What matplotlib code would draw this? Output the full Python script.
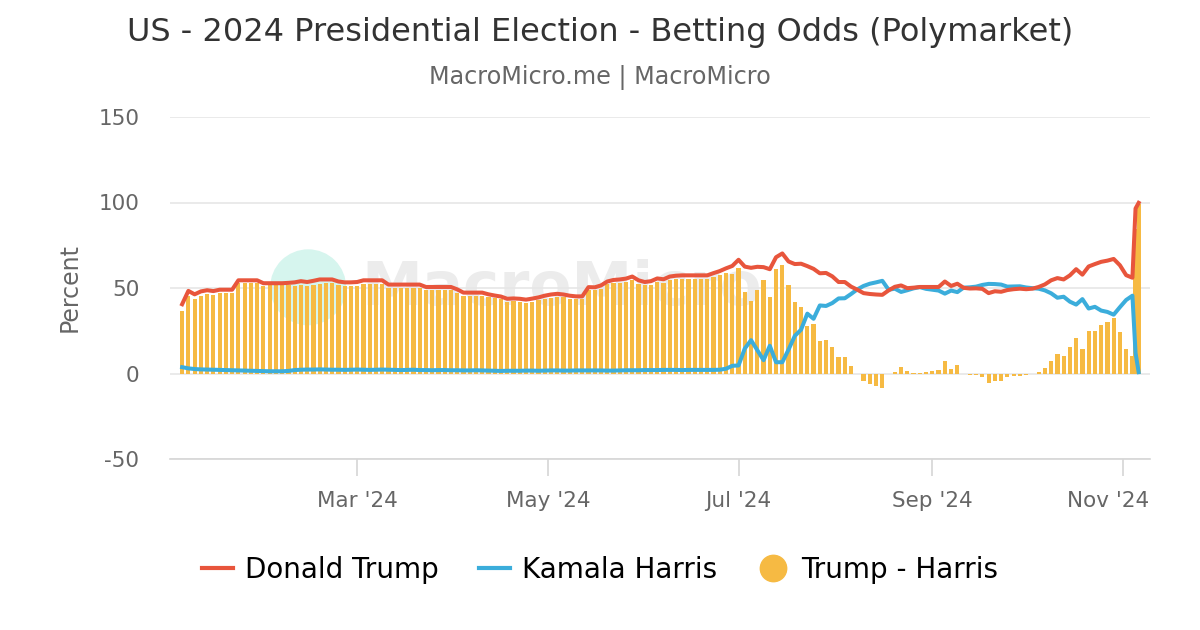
import matplotlib
matplotlib.use("Agg")
import matplotlib.pyplot as plt
from matplotlib.lines import Line2D
from matplotlib.patches import Ellipse
from matplotlib.transforms import ScaledTranslation
import pandas as pd

# ---------------- data ----------------
dates = list(pd.date_range("2024-01-05", "2024-11-04", freq="2D")) + [pd.Timestamp("2024-11-05"), pd.Timestamp("2024-11-06")]

trump = [
    40.5, 48.3, 46.3, 48.0, 48.7, 48.2, 49.0, 49.0, 49.0, 54.5,
    54.5, 54.5, 54.5, 52.8, 52.8, 52.8, 52.8, 53.0, 53.3, 54.0,
    53.5, 54.2, 55.0, 55.0, 55.0, 53.8, 53.3, 53.3, 53.5, 54.5,
    54.5, 54.5, 54.5, 52.0, 52.0, 52.0, 52.0, 52.0, 52.0, 50.6,
    50.6, 50.6, 50.6, 50.6, 49.2, 47.3, 47.3, 47.3, 47.3, 46.3,
    45.6, 45.0, 43.7, 43.9, 43.7, 43.2, 43.8, 44.5, 45.5, 46.2,
    46.6, 46.2, 45.5, 45.1, 45.1, 50.5, 50.4, 51.5, 53.8, 54.7,
    55.0, 55.5, 56.7, 54.5, 53.5, 54.0, 55.6, 55.1, 56.7, 57.2,
    57.4, 57.4, 57.4, 57.4, 57.4, 58.7, 59.9, 61.5, 62.9, 66.5,
    62.5, 61.8, 62.4, 62.2, 61.0, 68.0, 70.2, 65.5, 64.0, 64.2,
    62.8, 61.2, 58.6, 58.8, 56.8, 53.5, 53.5, 50.8, 49.0, 47.0,
    46.5, 46.2, 46.0, 48.6, 50.7, 51.5, 49.9, 50.2, 50.6, 50.6,
    50.6, 50.6, 53.8, 51.2, 52.5, 50.1, 49.7, 49.8, 49.5, 47.0,
    48.1, 47.8, 48.8, 49.3, 49.6, 49.3, 49.6, 50.6, 52.1, 54.5,
    55.8, 55.0, 57.4, 61.0, 57.8, 62.6, 64.0, 65.3, 66.0, 67.0,
    63.3, 57.5, 56.0, 96.5, 99.8,
]

harris = [
    3.7, 3.0, 2.6, 2.4, 2.3, 2.2, 2.1, 2.0, 1.9, 1.8,
    1.7, 1.6, 1.5, 1.4, 1.3, 1.3, 1.3, 1.5, 2.0, 2.2,
    2.3, 2.3, 2.4, 2.3, 2.2, 2.2, 2.1, 2.2, 2.3, 2.2,
    2.1, 2.2, 2.3, 2.2, 2.1, 2.0, 2.1, 2.2, 2.0, 2.0,
    1.9, 2.0, 2.0, 1.9, 1.9, 1.8, 1.8, 1.9, 1.8, 1.7,
    1.6, 1.5, 1.6, 1.6, 1.6, 1.7, 1.7, 1.6, 1.7, 1.8,
    1.8, 1.7, 1.7, 1.8, 1.8, 1.8, 1.8, 1.8, 1.7, 1.7,
    1.8, 1.9, 1.9, 1.9, 2.0, 2.0, 2.0, 2.1, 2.1, 2.1,
    2.0, 2.1, 2.1, 2.1, 2.1, 2.1, 2.2, 2.8, 4.5, 4.7,
    14.6, 19.5, 13.7, 7.8, 16.2, 6.6, 6.6, 14.0, 22.0, 25.6,
    35.0, 32.0, 39.8, 39.5, 41.2, 43.9, 44.0, 46.5, 49.2, 51.2,
    52.5, 53.3, 54.2, 49.0, 49.6, 47.7, 48.7, 49.8, 50.5, 49.5,
    49.0, 48.5, 46.7, 48.5, 47.6, 50.2, 50.4, 50.8, 51.8, 52.4,
    52.3, 52.0, 50.8, 50.9, 51.0, 50.3, 49.9, 49.6, 48.6, 46.9,
    44.3, 44.9, 42.0, 40.3, 43.5, 38.0, 39.0, 36.8, 36.0, 34.4,
    38.8, 43.0, 45.5, 12.0, 0.8,
]

spread = [t - h for t, h in zip(trump, harris)]

title = "US - 2024 Presidential Election - Betting Odds (Polymarket)"
subtitle = "MacroMicro.me | MacroMicro"
series_names = ["Donald Trump", "Kamala Harris", "Trump - Harris"]
tick_dates = ["2024-03-01", "2024-05-01", "2024-07-01", "2024-09-01", "2024-11-01"]
tick_labels = ["Mar '24", "May '24", "Jul '24", "Sep '24", "Nov '24"]
y_ticks = [-50, 0, 50, 100, 150]

C_TRUMP = "#E8553C"
C_HARRIS = "#3BADDB"
C_BAR = "#F6BA43"

# ---------------- figure ----------------
W, H = 1200, 630
fig = plt.figure(figsize=(W / 100, H / 100), dpi=100)
fig.patch.set_facecolor("white")
L, R, T, B = 170, 1150, 117, 459
ax = fig.add_axes([L / W, (H - B) / H, (R - L) / W, (B - T) / H])

# watermark
ax.add_patch(Ellipse((0.141, 0.502), 76 / (R - L), 76 / (B - T), transform=ax.transAxes,
                     facecolor="#d6f5ee", edgecolor="none", zorder=0.3))
ax.text(0.195, 0.50, "MacroMicro", transform=ax.transAxes, fontsize=44, color="#ececec",
        ha="left", va="center", zorder=0.35, fontweight="bold")

ax.bar(dates, spread, width=1.35, color=C_BAR, zorder=2, linewidth=0)
ax.plot(dates, trump, color=C_TRUMP, lw=2.9, zorder=4, solid_joinstyle="round")
ax.plot(dates, harris, color=C_HARRIS, lw=2.9, zorder=3, solid_joinstyle="round")

ax.set_ylim(-50, 150)
ax.set_yticks(y_ticks)
ax.set_xlim(pd.Timestamp("2024-01-01 03:00"), pd.Timestamp("2024-11-09 15:00"))
ax.set_xticks([pd.Timestamp(d) for d in tick_dates])
ax.set_xticklabels(tick_labels)

ax.grid(axis="y", color="#e6e6e6", lw=1.2, zorder=0.1)
ax.set_axisbelow(True)
for s in ["top", "right", "left"]:
    ax.spines[s].set_visible(False)
ax.spines["bottom"].set_color("#d6d6d6")
ax.spines["bottom"].set_linewidth(1.2)
ax.tick_params(axis="y", length=0, pad=22, labelsize=15.5, labelcolor="#666666")
ax.tick_params(axis="x", length=12, width=1.2, color="#d6d6d6", pad=11, labelsize=15.5,
               labelcolor="#666666")
ax.yaxis.set_major_formatter(matplotlib.ticker.FuncFormatter(lambda v, p: f"{int(v)}"))
ax.set_ylabel("Percent", fontsize=17, color="#666666")
ax.yaxis.set_label_coords((82 - L) / (R - L), 0.5)

# keep the last x label inside the plot area, as in the reference
last = ax.get_xticklabels()[-1]
last.set_transform(last.get_transform() + ScaledTranslation(-15 / 100, 0, fig.dpi_scale_trans))

fig.text(0.5, 1 - 33 / H, title, ha="center", va="center", fontsize=23, color="#333333")
fig.text(0.5, 1 - 78 / H, subtitle, ha="center", va="center", fontsize=17.2, color="#666666")

handles = [
    Line2D([], [], color=C_TRUMP, lw=3),
    Line2D([], [], color=C_HARRIS, lw=3),
    Line2D([], [], color=C_BAR, marker="o", markersize=19, lw=0),
]
fig.legend(handles, series_names, loc="center", bbox_to_anchor=(0.5, 1 - 570 / H), ncol=3,
           frameon=False, fontsize=20, handlelength=1.1, handletextpad=0.45, columnspacing=1.45)

fig.savefig("out.png", dpi=100)
